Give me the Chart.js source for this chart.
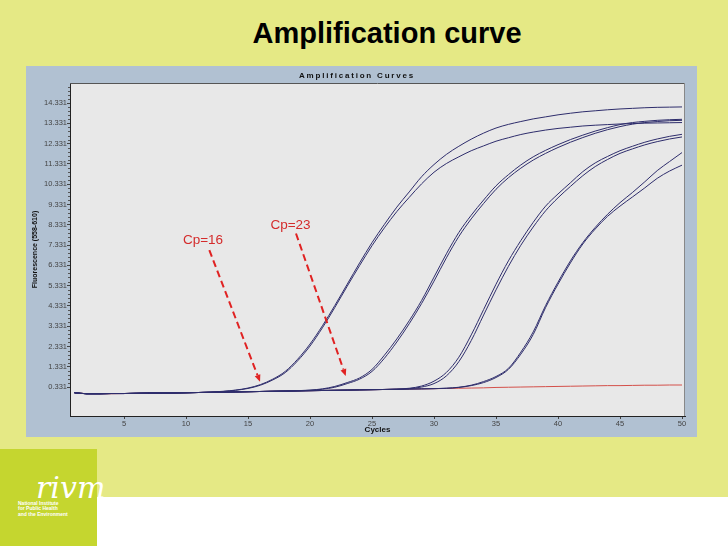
<!DOCTYPE html>
<html lang="en">
<head>
  <meta charset="UTF-8">
  <title>Amplification curve</title>
  <script src="https://cdn.jsdelivr.net/npm/chart.js"></script>
  <style>
    html, body { margin: 0; padding: 0; }
    body {
      width: 728px; height: 546px; overflow: hidden; position: relative;
      background: #e5e985; font-family: "Liberation Sans", Arial, sans-serif;
    }
    h1 {
      position: absolute; left: 0; top: 17px; width: 774px; margin: 0;
      text-align: center; font-size: 29px; font-weight: bold; color: #000;
    }
    #panel {
      position: absolute; left: 26px; top: 66px; width: 671px; height: 371px;
      background: #b1c1d2;
    }
    #logo {
      position: absolute; left: 0; top: 449px; width: 97px; height: 97px;
      background: #c5d62f;
    }
    #white { position: absolute; left: 97px; top: 497px; width: 631px; height: 49px; background: #fff; }
    #rivm {
      position: absolute; left: 36px; top: 470px; font: italic 30px "DejaVu Serif", serif;
      color: #fff;
    }
    #inst {
      position: absolute; left: 18px; top: 501px; font: bold 5px "Liberation Sans", Arial, sans-serif;
      line-height: 5.4px; color: #fff;
    }
  </style>
</head>
<body>
  <h1>Amplification curve</h1>
  <div id="panel"><canvas id="ampChart"></canvas></div>
  <div id="logo"></div>
  <div id="white"></div>
  <div id="rivm">rivm</div>
  <div id="inst">National Institute<br>for Public Health<br>and the Environment</div>

  <script>
    const cycles = [1,2,3,4,5,6,7,8,9,10,11,12,13,14,15,16,17,18,19,20,21,22,23,24,25,
                    26,27,28,29,30,31,32,33,34,35,36,37,38,39,40,41,42,43,44,45,46,47,48,49,50];

    // sample pair 1 (Cp=16)
    const sampleA1 = [0.05,0.00,0.00,0.01,0.01,0.02,0.03,0.03,0.04,0.05,0.06,0.08,
      0.12,0.18,0.28,0.45,0.72,1.10,1.70,2.45,
      3.35,4.35,5.40,6.45,7.45,8.35,9.20,9.95,10.70,11.30,
      11.80,12.20,12.55,12.85,13.10,13.28,13.42,13.55,13.65,13.75,
      13.83,13.90,13.95,14.00,14.04,14.07,14.10,14.12,14.13,14.14];
    const sampleA2 = [0.05,0.00,0.00,0.01,0.01,0.02,0.03,0.03,0.04,0.05,0.06,0.07,
      0.11,0.17,0.26,0.42,0.68,1.04,1.62,2.35,
      3.25,4.25,5.30,6.32,7.30,8.18,8.98,9.68,10.35,10.92,
      11.35,11.68,11.98,12.22,12.45,12.62,12.78,12.90,13.00,13.08,
      13.14,13.20,13.24,13.27,13.30,13.32,13.34,13.35,13.36,13.37];

    // sample pair 2 (Cp=23)
    const sampleB1 = [0.05,0.00,0.00,0.01,0.01,0.02,0.03,0.03,0.04,0.05,0.06,0.07,0.08,0.09,0.10,
      0.11,0.12,0.13,0.15,0.18,
      0.24,0.36,0.55,0.78,1.20,1.90,2.70,3.60,4.60,5.75,
      6.90,7.95,8.80,9.55,10.25,10.80,11.28,11.68,12.00,12.28,
      12.53,12.75,12.95,13.12,13.27,13.37,13.43,13.48,13.51,13.53];
    const sampleB2 = [0.05,0.00,0.00,0.01,0.01,0.02,0.03,0.03,0.04,0.05,0.06,0.07,0.08,0.09,0.10,
      0.11,0.12,0.13,0.14,0.17,
      0.22,0.32,0.50,0.72,1.10,1.75,2.55,3.45,4.45,5.55,
      6.70,7.75,8.62,9.38,10.08,10.65,11.12,11.52,11.85,12.14,
      12.40,12.63,12.84,13.02,13.17,13.29,13.37,13.42,13.46,13.48];

    // sample pair 3
    const sampleC1 = [0.05,0.00,0.00,0.01,0.01,0.02,0.03,0.03,0.04,0.05,0.06,0.07,0.08,0.09,0.10,
      0.11,0.12,0.13,0.14,0.15,0.16,0.17,0.18,0.19,0.20,
      0.21,0.23,0.27,0.38,0.62,
      1.05,1.80,2.90,4.15,5.40,6.55,7.55,8.45,9.25,9.85,
      10.40,10.95,11.38,11.70,11.98,12.20,12.40,12.56,12.69,12.79];
    const sampleC2 = [0.05,0.00,0.00,0.01,0.01,0.02,0.03,0.03,0.04,0.05,0.06,0.07,0.08,0.09,0.10,
      0.11,0.12,0.13,0.14,0.15,0.16,0.17,0.18,0.19,0.20,
      0.21,0.22,0.25,0.33,0.50,
      0.88,1.58,2.62,3.88,5.12,6.28,7.32,8.22,9.02,9.66,
      10.22,10.75,11.20,11.55,11.85,12.07,12.27,12.43,12.56,12.66];

    // sample pair 4
    const sampleD1 = [0.05,0.00,0.00,0.01,0.01,0.02,0.03,0.03,0.04,0.05,0.06,0.07,0.08,0.09,0.10,
      0.11,0.12,0.13,0.14,0.15,0.16,0.17,0.18,0.19,0.20,
      0.21,0.22,0.23,0.24,0.25,
      0.27,0.32,0.42,0.60,0.85,1.25,2.05,3.05,4.35,5.50,
      6.55,7.45,8.20,8.85,9.42,9.92,10.45,11.00,11.45,11.89];
    const sampleD2 = [0.05,0.00,0.00,0.01,0.01,0.02,0.03,0.03,0.04,0.05,0.06,0.07,0.08,0.09,0.10,
      0.11,0.12,0.13,0.14,0.15,0.16,0.17,0.18,0.19,0.20,
      0.21,0.22,0.23,0.24,0.25,
      0.27,0.31,0.40,0.55,0.80,1.20,1.95,2.92,4.25,5.40,
      6.45,7.38,8.12,8.75,9.25,9.70,10.15,10.62,10.98,11.27];

    // negative control
    const negControl = [0.05,0.00,0.00,0.00,0.01,0.02,0.03,0.03,0.04,0.05,0.06,0.07,0.08,0.09,0.10,
      0.11,0.12,0.13,0.14,0.15,0.16,0.17,0.18,0.19,0.20,0.21,0.22,0.23,0.24,0.25,
      0.26,0.27,0.28,0.29,0.31,0.32,0.33,0.34,0.35,0.36,0.37,0.38,0.39,0.40,0.40,
      0.41,0.42,0.42,0.43,0.43];

    const xTicks = [5,10,15,20,25,30,35,40,45,50];
    const yTicks = [0.331,1.331,2.331,3.331,4.331,5.331,6.331,7.331,8.331,9.331,10.331,11.331,12.331,13.331,14.331];

    const samples = [sampleA1, sampleA2, sampleB1, sampleB2, sampleC1, sampleC2, sampleD1, sampleD2];

    const toPoints = arr => arr.map((v, i) => ({ x: cycles[i], y: v }));

    const datasets = samples.map(s => ({
      data: toPoints(s),
      borderColor: "#2e2d6c",
      borderWidth: 1,
      pointRadius: 0,
      cubicInterpolationMode: "monotone",
      order: 1
    }));
    datasets.push({
      data: toPoints(negControl),
      borderColor: "#d4504a",
      borderWidth: 1,
      pointRadius: 0,
      order: 2
    });

    // Cp annotations, in data units (cycle, fluorescence)
    const cpNotes = [
      { text: "Cp=16", at: [11.37, 7.38], from: [11.88, 7.08], to: [15.97, 0.59] },
      { text: "Cp=23", at: [18.43, 8.10], from: [18.87, 7.90], to: [22.88, 0.87] }
    ];

    const framePlugin = {
      id: "frame",
      beforeDraw(chart) {
        const { ctx, chartArea: a } = chart;
        ctx.save();
        ctx.fillStyle = "#e8e8e8";
        ctx.fillRect(a.left, a.top, a.right - a.left, a.bottom - a.top);
        ctx.restore();
      },
      afterDraw(chart) {
        const { ctx, chartArea: a, scales } = chart;
        ctx.save();
        // top and right frame
        ctx.strokeStyle = "#555";
        ctx.lineWidth = 1;
        ctx.beginPath();
        ctx.moveTo(a.left, a.top + 0.5);
        ctx.lineTo(a.right, a.top + 0.5);
        ctx.stroke();
        ctx.strokeStyle = "#888";
        ctx.beginPath();
        ctx.moveTo(a.right - 0.5, a.top);
        ctx.lineTo(a.right - 0.5, a.bottom);
        ctx.stroke();

        // minor ticks on y
        ctx.strokeStyle = "#555";
        for (let k = 0; k < yTicks.length; k++) {
          for (let m = 1; m < 5; m++) {
            const v = yTicks[k] + m * 0.2;
            if (v > scales.y.max) continue;
            const py = Math.round(scales.y.getPixelForValue(v)) + 0.5;
            ctx.beginPath();
            ctx.moveTo(a.left - 2, py);
            ctx.lineTo(a.left, py);
            ctx.stroke();
          }
        }

        // plot title
        ctx.fillStyle = "#111";
        ctx.font = "bold 8px 'Liberation Sans', Arial, sans-serif";
        ctx.letterSpacing = "1.8px";
        ctx.textAlign = "center";
        ctx.textBaseline = "middle";
        ctx.fillText("Amplification Curves", 331, 10);
        ctx.letterSpacing = "0px";

        // Cp annotations
        cpNotes.forEach(n => {
          const tx = scales.x.getPixelForValue(n.at[0]);
          const ty = scales.y.getPixelForValue(n.at[1]);
          ctx.fillStyle = "#d42b2b";
          ctx.font = "13.5px 'Liberation Sans', Arial, sans-serif";
          ctx.textAlign = "center";
          ctx.textBaseline = "alphabetic";
          ctx.fillText(n.text, tx, ty);

          const x0 = scales.x.getPixelForValue(n.from[0]);
          const y0 = scales.y.getPixelForValue(n.from[1]);
          const x1 = scales.x.getPixelForValue(n.to[0]);
          const y1 = scales.y.getPixelForValue(n.to[1]);
          const ang = Math.atan2(y1 - y0, x1 - x0);
          const head = 7;
          const bx = x1 - head * Math.cos(ang);
          const by = y1 - head * Math.sin(ang);
          ctx.strokeStyle = "#e02222";
          ctx.lineWidth = 2;
          ctx.setLineDash([7, 4]);
          ctx.beginPath();
          ctx.moveTo(x0, y0);
          ctx.lineTo(bx, by);
          ctx.stroke();
          ctx.setLineDash([]);
          ctx.fillStyle = "#e02222";
          ctx.beginPath();
          ctx.moveTo(x1, y1);
          ctx.lineTo(bx + 3 * Math.sin(ang), by - 3 * Math.cos(ang));
          ctx.lineTo(bx - 3 * Math.sin(ang), by + 3 * Math.cos(ang));
          ctx.closePath();
          ctx.fill();
        });
        ctx.restore();
      }
    };

    const tickFont = { family: "'Liberation Sans', Arial, sans-serif", size: 7.5 };

    new Chart(document.getElementById("ampChart"), {
      type: "line",
      data: { datasets },
      plugins: [framePlugin],
      options: {
        responsive: true,
        maintainAspectRatio: false,
        animation: false,
        layout: { padding: { left: 4, top: 17, right: 12, bottom: 0 } },
        plugins: {
          legend: { display: false },
          tooltip: { enabled: false },
          title: { display: false }
        },
        scales: {
          x: {
            type: "linear",
            min: 0.645,
            max: 50.24,
            afterBuildTicks: s => { s.ticks = xTicks.map(v => ({ value: v })); },
            afterFit: s => { s.height = 21; },
            grid: { display: true, drawOnChartArea: false, drawTicks: true, tickLength: 3, color: "#444" },
            border: { display: true, color: "#222", width: 1 },
            ticks: { font: tickFont, color: "#444", padding: 0, maxRotation: 0, autoSkip: false },
            title: {
              display: true, text: "Cycles", color: "#111",
              font: { family: "'Liberation Sans', Arial, sans-serif", size: 8, weight: "bold" },
              padding: { top: 0, bottom: 2.5 }
            }
          },
          y: {
            min: -1.098,
            max: 15.32,
            afterBuildTicks: s => { s.ticks = yTicks.map(v => ({ value: v })); },
            afterFit: s => { s.width = 40; },
            grid: { display: true, drawOnChartArea: false, drawTicks: true, tickLength: 3, color: "#444" },
            border: { display: true, color: "#222", width: 1 },
            ticks: {
              font: tickFont, color: "#444", padding: 0, autoSkip: false,
              callback: v => v.toFixed(3)
            },
            title: {
              display: true, text: "Fluorescence (558-610)", color: "#111",
              font: { family: "'Liberation Sans', Arial, sans-serif", size: 7, weight: "bold" },
              padding: { top: 1, bottom: 0 }
            }
          }
        }
      }
    });
  </script>
</body>
</html>
